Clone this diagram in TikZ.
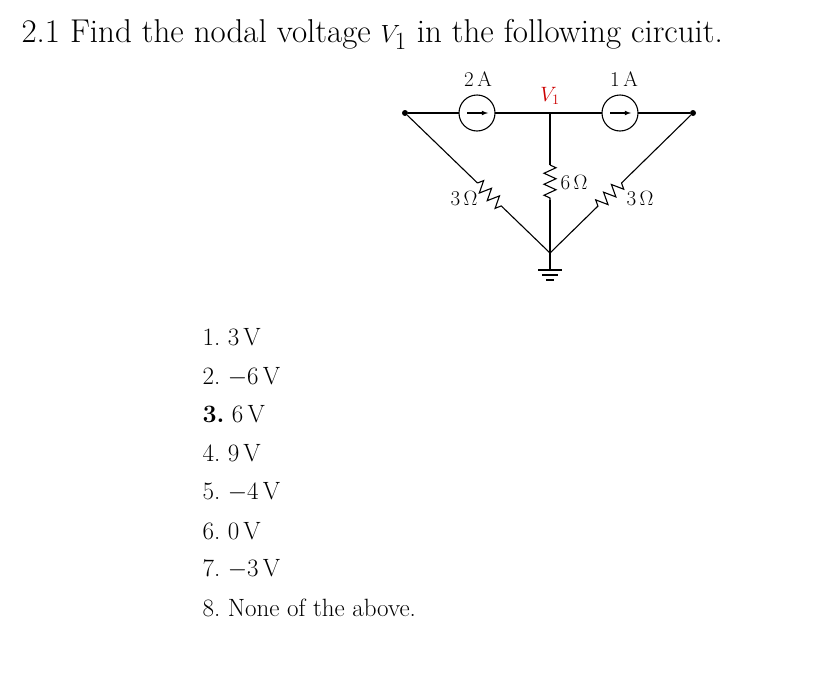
\documentclass[tikz,border=0pt]{standalone}
\usetikzlibrary{decorations.pathmorphing,calc}
\begin{document}
\begin{tikzpicture}[x=1pt,y=-1pt,
  wire/.style={line width=1.1pt},
  res/.style={line width=1.1pt,decorate,decoration={zigzag,segment length=11,amplitude=6}},
  src/.style={circle,draw,line width=1.1pt,minimum size=36pt,fill=white,inner sep=0},
  dot/.style={circle,fill,inner sep=0,minimum size=6pt},
  lbl/.style={font=\fontsize{21}{24}\selectfont},
  item/.style={anchor=west,font=\fontsize{25}{28}\selectfont}]
\useasboundingbox (0,0) rectangle (834,680);
\node[anchor=base west,font=\fontsize{33}{38}\selectfont] (title) at (18,42) {2.1 Find the nodal voltage $V_1$ in the following circuit.};
\node[dot] (L) at (405,113) {};
\node[dot] (R) at (693,113) {};
\coordinate (V) at (550,113);
\coordinate (G) at (550,253);
\coordinate (Gb) at (550,270);
\draw[wire] (L) -- (R);
\node[src] (s1) at (477,113) {};
\node[src] (s2) at (620,113) {};
\draw[-latex,line width=1.1pt] ([xshift=-10pt]s1.center) -- ([xshift=11pt]s1.center);
\draw[-latex,line width=1.1pt] ([xshift=-10pt]s2.center) -- ([xshift=11pt]s2.center);
% middle
\coordinate (m1) at (550,165); \coordinate (m2) at (550,200);
\draw[wire] (V) -- (m1); \draw[res] (m1) -- (m2); \draw[wire] (m2) -- (G);
% left diagonal
\coordinate (l1) at ($(L)!0.5!(G)$); \coordinate (l2) at ($(L)!0.68!(G)$);
\draw[wire] (L) -- (l1); \draw[res] (l1) -- (l2); \draw[wire] (l2) -- (G);
\coordinate (r1) at ($(R)!0.5!(G)$); \coordinate (r2) at ($(R)!0.68!(G)$);
\draw[wire] (R) -- (r1); \draw[res] (r1) -- (r2); \draw[wire] (r2) -- (G);
% ground
\draw[wire] (G) -- (Gb);
\draw[wire] (538,270) -- (562,270);
\draw[wire] (542,275) -- (558,275);
\draw[wire] (546,280) -- (554,280);
\node[lbl] (a1) at (478,79) {2\,A};
\node[lbl] (a2) at (624,79) {1\,A};
\node[lbl,text=red!80!black] (v1) at (550,96) {$V_1$};
\node[lbl,anchor=west] (r6) at (557,183) {6\,$\Omega$};
\node[lbl] (r3l) at (464,199) {3\,$\Omega$};
\node[lbl] (r3r) at (640,199) {3\,$\Omega$};
\node[item] (i1) at (199,337) {1.\ 3\,V};
\node[item] (i2) at (199,377) {2.\ $-$6\,V};
\node[item] (i3) at (199,414) {\textbf{3.}\ 6\,V};
\node[item] (i4) at (199,453) {4.\ 9\,V};
\node[item] (i5) at (199,492) {5.\ $-$4\,V};
\node[item] (i6) at (199,531) {6.\ 0\,V};
\node[item] (i7) at (199,569) {7.\ $-$3\,V};
\node[item] (i8) at (199,608) {8.\ None of the above.};
\end{tikzpicture}
\end{document}
